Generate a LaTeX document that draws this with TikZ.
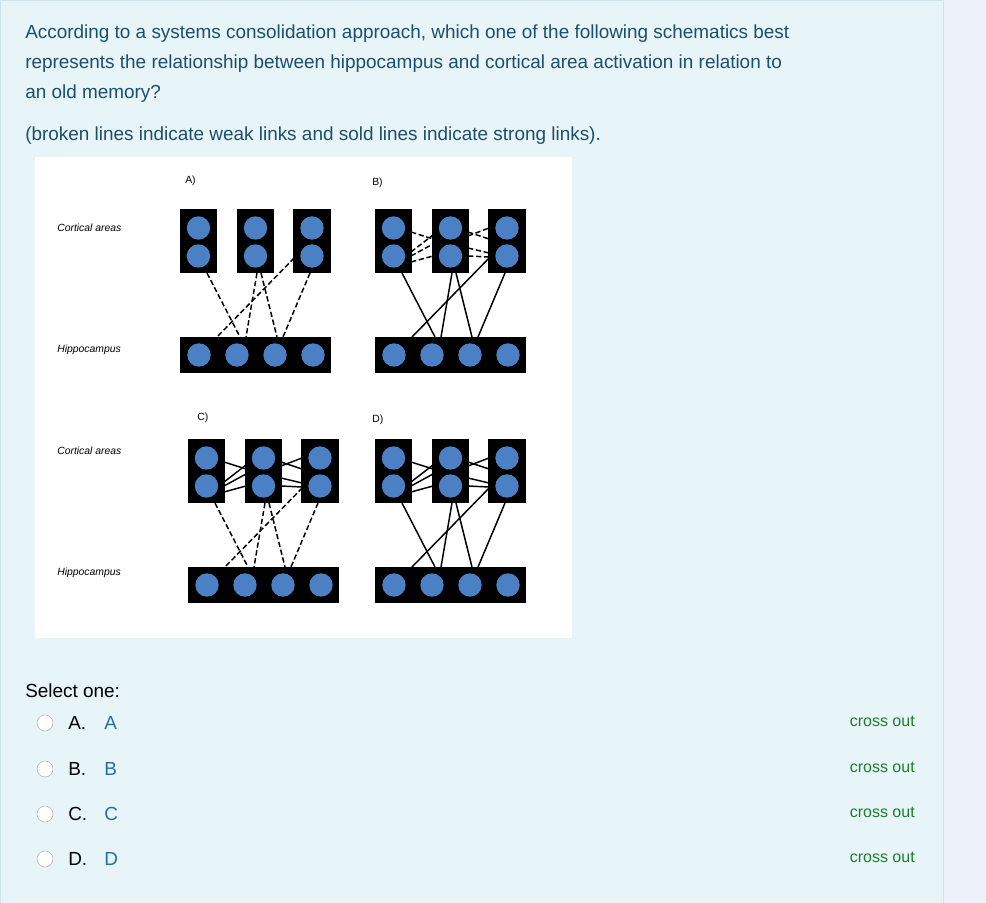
\documentclass[tikz,border=0pt]{standalone}
\usepackage{fontspec}
\setmainfont{Liberation Sans}
\begin{document}
\begin{tikzpicture}[x=0.75pt,y=-0.75pt,
  txt/.style={anchor=base west,inner sep=0,text=qtext,font=\fontsize{14.2}{16}\selectfont},
  lab/.style={anchor=west,inner sep=0,font=\itshape\fontsize{7.8}{9}\selectfont},
  plab/.style={anchor=base west,inner sep=0,font=\fontsize{7.8}{9}\selectfont},
  blk/.style={fill=black,draw=none},
  dot/.style={circle,fill=dotblue,minimum size=17.5pt,inner sep=0},
  strong/.style={line width=1.1pt},
  weak/.style={line width=1.1pt,dash pattern=on 4pt off 2pt},
  radio/.style={circle,draw=gray!60,fill=white,minimum size=12pt,inner sep=0},
  cross/.style={anchor=base east,inner sep=0,text=crossgreen,font=\fontsize{12}{14}\selectfont}]
\definecolor{qtext}{HTML}{1D4E6B}
\definecolor{dotblue}{HTML}{4C80C4}
\definecolor{cardbg}{HTML}{E7F5F8}
\definecolor{cardline}{HTML}{CDE5EC}
\definecolor{sidebg}{HTML}{EDF2FA}
\definecolor{optblue}{HTML}{2A6CA8}
\definecolor{crossgreen}{HTML}{1F7A2E}
\useasboundingbox (0,0) rectangle (986,903);
\fill[sidebg] (0,0) rectangle (986,903);
\filldraw[fill=cardbg,draw=cardline] (0,0) rectangle (943,903);
\node[txt] (q1) at (25,38) {According to a systems consolidation approach, which one of the following schematics best};
\node[txt] (q2) at (25,68) {represents the relationship between hippocampus and cortical area activation in relation to};
\node[txt] (q3) at (25,98) {an old memory?};
\node[txt] (q4) at (25,140) {(broken lines indicate weak links and sold lines indicate strong links).};
\fill[white] (35,157) rectangle (572,638);
\node[lab] (ca1) at (57,228) {Cortical areas};
\node[lab] (hp1) at (57,350) {Hippocampus};
\node[lab] (ca2) at (57,451) {Cortical areas};
\node[lab] (hp2) at (57,573) {Hippocampus};
\node[plab] (la) at (185,183) {A)};
\node[plab] (lb) at (372,185) {B)};
\node[plab] (lc) at (197,420) {C)};
\node[plab] (ld) at (372,422) {D)};
% panel macro: #1 name, #2 dx, #3 dy, #4 vertical style, #5 lateral style (none = skip)
\newcommand{\mypanel}[5]{%
\begin{scope}[shift={(#2,#3)}]
  \fill[blk] (180,209) rectangle (217,273);
  \fill[blk] (237,209) rectangle (274,273);
  \fill[blk] (293,209) rectangle (331,273);
  \fill[blk] (180,337) rectangle (331,373);
  \node[dot] (#1a1) at (198.5,228) {};
  \node[dot] (#1a2) at (198.5,256) {};
  \node[dot] (#1b1) at (255.5,228) {};
  \node[dot] (#1b2) at (255.5,256) {};
  \node[dot] (#1c1) at (312,228) {};
  \node[dot] (#1c2) at (312,256) {};
  \node[dot] (#1h1) at (199,355) {};
  \node[dot] (#1h2) at (237,355) {};
  \node[dot] (#1h3) at (275,355) {};
  \node[dot] (#1h4) at (313,355) {};
  \coordinate (#1t1) at (207,273); \coordinate (#1u1) at (240,337);
  \coordinate (#1t2) at (257,273); \coordinate (#1u2) at (246,337);
  \coordinate (#1t3) at (261,273); \coordinate (#1u3) at (277,337);
  \coordinate (#1t4) at (310,273); \coordinate (#1u4) at (283,337);
  \coordinate (#1t5) at (300,252); \coordinate (#1u5) at (217,337);
  \foreach \k in {1,...,5} {\draw[#4] (#1t\k) -- (#1u\k);}
  \ifx#5\relax\else
  \coordinate (#1p1) at (216,232); \coordinate (#1q1) at (238,239);
  \coordinate (#1p2) at (216,252); \coordinate (#1q2) at (238,235);
  \coordinate (#1p3) at (216,256); \coordinate (#1q3) at (238,244);
  \coordinate (#1p4) at (216,262); \coordinate (#1q4) at (238,256);
  \coordinate (#1p5) at (273,232); \coordinate (#1q5) at (294,239);
  \coordinate (#1p6) at (273,236); \coordinate (#1q6) at (294,228);
  \coordinate (#1p7) at (273,248); \coordinate (#1q7) at (294,253);
  \coordinate (#1p8) at (273,256); \coordinate (#1q8) at (294,257);
  \foreach \k in {1,...,8} {\draw[#5] (#1p\k) -- (#1q\k);}
  \fi
\end{scope}}
\mypanel{A}{0}{0}{weak}{\relax}
\mypanel{B}{195}{0}{strong}{weak}
\mypanel{C}{8}{230}{weak}{strong}
\mypanel{D}{195}{230}{strong}{strong}
\node[anchor=base west,inner sep=0,text=black,font=\fontsize{14.2}{16}\selectfont] (sel) at (25,697) {Select one:};
\foreach \y/\l/\n in {729/A/1,775/B/2,820/C/3,865/D/4} {
  \node[radio] (r\n) at (45,\y-6) {};
  \node[anchor=base west,inner sep=0,font=\fontsize{14.2}{16}\selectfont] (o\n) at (68,\y) {\l.};
  \node[anchor=base west,inner sep=0,text=optblue,font=\fontsize{14.2}{16}\selectfont] (v\n) at (104,\y) {\l};
  \node[cross] (x\n) at (915,\y-3) {cross out};
}
\end{tikzpicture}
\end{document}
